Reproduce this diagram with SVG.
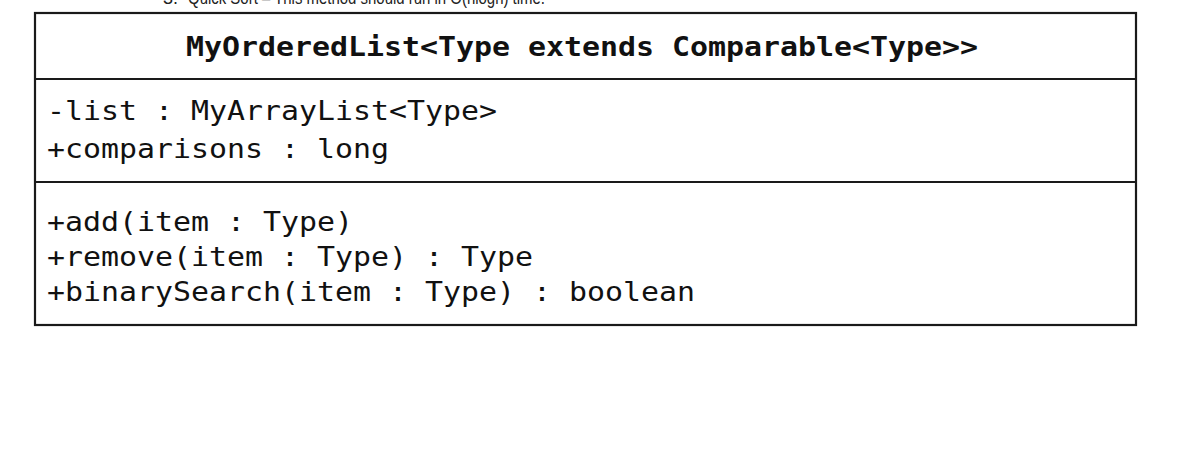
<svg xmlns="http://www.w3.org/2000/svg" width="1197" height="476" viewBox="0 0 1197 476">
  <style>
    .box { fill: #ffffff; stroke: #1a1a1a; stroke-width: 2.2; }
    .div { stroke: #1a1a1a; stroke-width: 2.2; }
    .mono { font-family: "DejaVu Sans Mono", "Liberation Mono", monospace; font-size: 26px; fill: #111111; }
    .title { font-weight: bold; }
    .note { font-family: "Liberation Sans", Arial, sans-serif; font-size: 18px; fill: #222222; }
  </style>
  <rect width="1197" height="476" fill="#ffffff"/>
  <g id="note">
    <text class="note" x="163" y="4">3.</text>
    <text class="note" x="188" y="4" textLength="357" lengthAdjust="spacingAndGlyphs">Quick Sort – This method should run in O(nlogn) time.</text>
  </g>
  <g id="MyOrderedList">
    <rect class="box" x="35" y="13" width="1101" height="312"/>
    <line class="div" x1="35" y1="79" x2="1136" y2="79"/>
    <line class="div" x1="35" y1="182" x2="1136" y2="182"/>
    <text class="mono title" x="186" y="56" textLength="792" lengthAdjust="spacingAndGlyphs">MyOrderedList&lt;Type extends Comparable&lt;Type&gt;&gt;</text>
    <text class="mono" x="47" y="120" textLength="450" lengthAdjust="spacingAndGlyphs">-list : MyArrayList&lt;Type&gt;</text>
    <text class="mono" x="47" y="158" textLength="342" lengthAdjust="spacingAndGlyphs">+comparisons : long</text>
    <text class="mono" x="47" y="231" textLength="306" lengthAdjust="spacingAndGlyphs">+add(item : Type)</text>
    <text class="mono" x="47" y="266" textLength="486" lengthAdjust="spacingAndGlyphs">+remove(item : Type) : Type</text>
    <text class="mono" x="47" y="301" textLength="648" lengthAdjust="spacingAndGlyphs">+binarySearch(item : Type) : boolean</text>
  </g>
  <g id="connectors"/>
</svg>
